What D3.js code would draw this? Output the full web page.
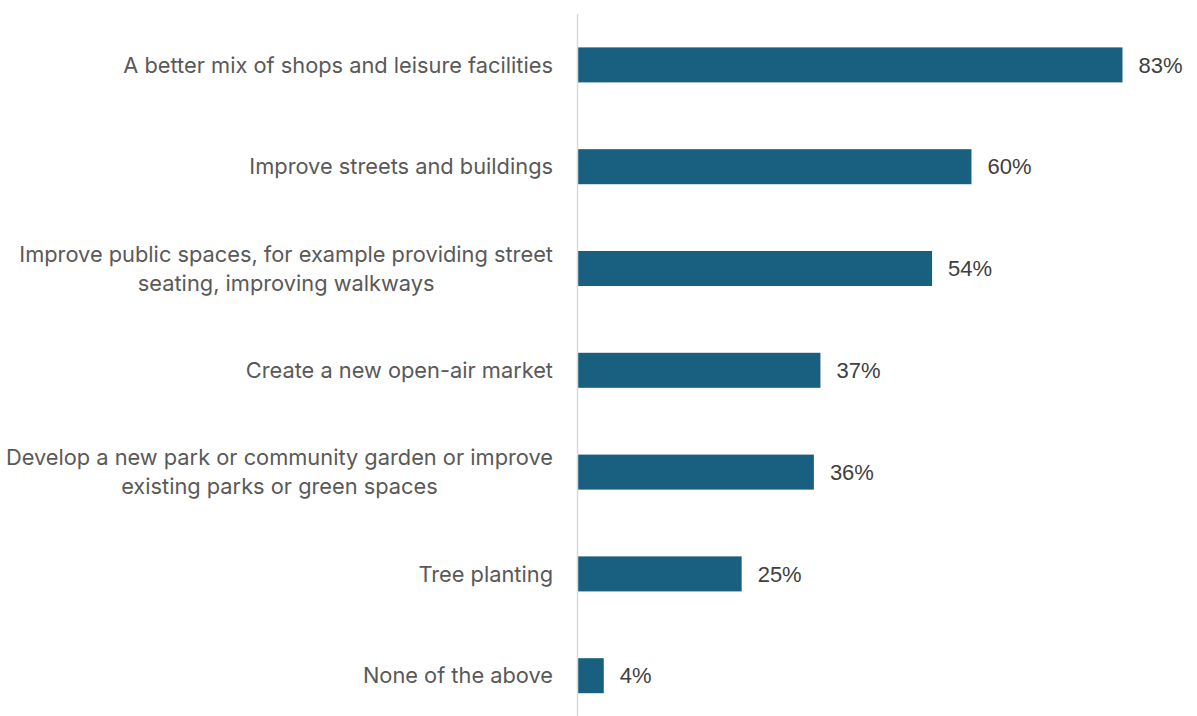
<!DOCTYPE html>
<html>
<head>
<meta charset="utf-8">
<script src="https://cdn.jsdelivr.net/npm/d3@7"></script>
<style>
  html, body { margin: 0; padding: 0; background: #fff; }
  svg { display: block; }
</style>
</head>
<body>
<svg id="chart" width="1197" height="716"></svg>
<script>
// Survey answers (each category may span several lines)
const categories = [
  ["A better mix of shops and leisure facilities"],
  ["Improve streets and buildings"],
  ["Improve public spaces, for example providing street", "seating, improving walkways"],
  ["Create a new open-air market"],
  ["Develop a new park or community garden or improve", "existing parks or green spaces"],
  ["Tree planting"],
  ["None of the above"]
];
const values = [83, 60, 54, 37, 36, 25, 4];

const svg = d3.select("#chart");
const W = 1197, H = 716;
const axisX = 577.5;
const plotTop = 14, step = 101.8;

const x = d3.scaleLinear().domain([0, 100]).range([axisX, axisX + 656.6]);
const y = d3.scaleBand()
  .domain(d3.range(categories.length))
  .range([plotTop, plotTop + step * categories.length])
  .paddingInner(0.656)
  .paddingOuter(0.328);

// bars
svg.append("g").selectAll("rect")
  .data(values)
  .join("rect")
  .attr("x", x(0))
  .attr("y", (d, i) => y(i))
  .attr("width", d => x(d) - x(0))
  .attr("height", y.bandwidth())
  .attr("fill", "#195f80");

// vertical category axis line
svg.append("line")
  .attr("x1", axisX).attr("x2", axisX)
  .attr("y1", plotTop).attr("y2", H)
  .attr("stroke", "#d9d9d9")
  .attr("stroke-width", 1.5);

// value labels
svg.append("g").selectAll("text")
  .data(values)
  .join("text")
  .attr("x", d => x(d) + 16)
  .attr("y", (d, i) => y(i) + y.bandwidth() / 2)
  .attr("dy", "0.35em")
  .attr("font-family", "Liberation Sans, Arial, sans-serif")
  .attr("font-size", 22)
  .attr("fill", "#404040")
  .text(d => d + "%");

// category labels, centred block, right edge near the axis
const lineH = 29;
const labelRight = 553;
const labels = svg.append("g")
  .attr("font-family", "Inter, 'Noto Sans', sans-serif")
  .attr("font-size", 21.8)
  .attr("fill", "#595959");

categories.forEach((lines, i) => {
  const cy = y(i) + y.bandwidth() / 2;
  const t = labels.append("text")
    .attr("text-anchor", "middle")
    .attr("x", 0)
    .attr("y", cy - (lines.length - 1) * lineH / 2);
  lines.forEach((ln, j) => {
    t.append("tspan")
      .attr("x", 0)
      .attr("dy", j === 0 ? "0.35em" : lineH)
      .text(ln);
  });
});

// position each label block so its widest line ends at labelRight
labels.selectAll("text").each(function() {
  const bb = this.getBBox();
  const cx = labelRight - bb.width / 2;
  d3.select(this).attr("x", cx).selectAll("tspan").attr("x", cx);
});
</script>
</body>
</html>
